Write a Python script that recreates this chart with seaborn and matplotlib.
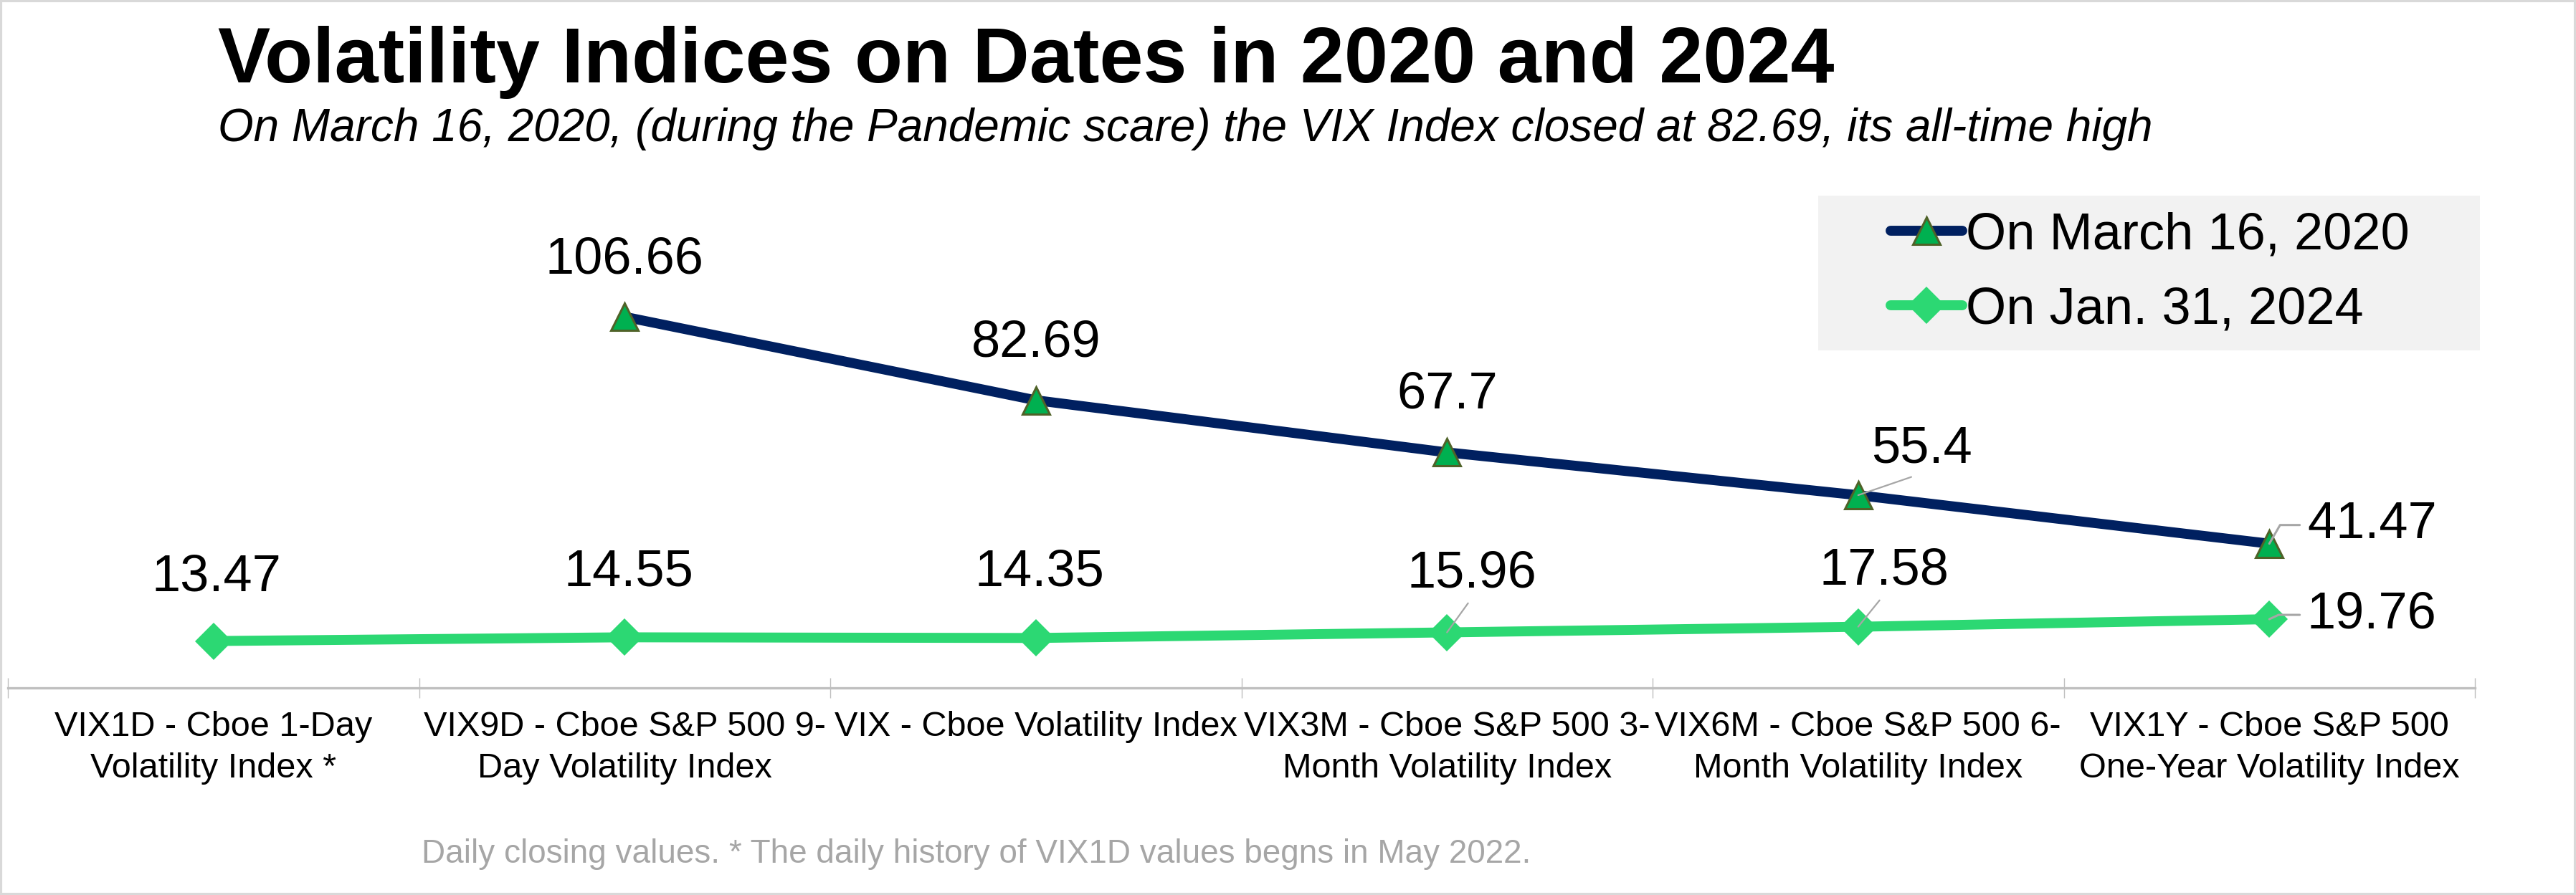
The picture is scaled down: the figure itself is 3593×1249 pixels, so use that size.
import numpy as np
import pandas as pd
import matplotlib
matplotlib.use("Agg")
import matplotlib.pyplot as plt
from matplotlib.patches import Rectangle
import seaborn as sns

# ------------------------------------------------------------------
# Data
# ------------------------------------------------------------------
categories = [
    "VIX1D - Cboe 1-Day\nVolatility Index *",
    "VIX9D - Cboe S&P 500 9-\nDay Volatility Index",
    "VIX - Cboe Volatility Index",
    "VIX3M - Cboe S&P 500 3-\nMonth Volatility Index",
    "VIX6M - Cboe S&P 500 6-\nMonth Volatility Index",
    "VIX1Y - Cboe S&P 500\nOne-Year Volatility Index",
]
vix_2020 = [np.nan, 106.66, 82.69, 67.7, 55.4, 41.47]
vix_2024 = [13.47, 14.55, 14.35, 15.96, 17.58, 19.76]
series_names = ["On March 16, 2020", "On Jan. 31, 2024"]

# label placement (pixel offsets from the point) and leader-line style
offs_2020 = [None, (0, 79), (0, 80), (0, 80), (89, 64), (143, 26)]
offs_2024 = [(4, 89), (6, 90), (5, 91), (35, 82), (36, 78), (143, 6)]
lead_2020 = [None, None, None, None, "up", 60]
lead_2024 = [None, None, None, "up", "up", 25]

df = pd.DataFrame({"pos": np.arange(len(categories)),
                   "y2020": vix_2020, "y2024": vix_2024})

# ------------------------------------------------------------------
# Style
# ------------------------------------------------------------------
sns.set_style("white")
plt.rcParams["font.family"] = ["Liberation Sans", "DejaVu Sans"]
plt.rcParams["text.color"] = "black"
plt.rcParams["xtick.color"] = "black"

W, H = 3593, 1249
fig = plt.figure(figsize=(W / 100, H / 100), dpi=100)
fig.patch.set_facecolor("white")

# grey legend box, drawn behind the (transparent) axes
fig.patches.append(Rectangle((2536 / W, (H - 489) / H), 923 / W, 216 / H,
                             transform=fig.transFigure, facecolor="#F2F2F2",
                             edgecolor="none", zorder=-1))

k = 4.855  # pixels per unit
ax = fig.add_axes([11 / W, (H - 960) / H, 3441 / W, 120 * k / H])
ax.patch.set_alpha(0)

navy = "#002060"
green = "#2CD873"

sns.lineplot(data=df, x="pos", y="y2020", ax=ax, color=navy, lw=10,
             marker="^", markersize=27, markerfacecolor="#00B050",
             markeredgecolor="#4F6228", markeredgewidth=2.2,
             solid_capstyle="round", label=series_names[0], errorbar=None)
sns.lineplot(data=df, x="pos", y="y2024", ax=ax, color=green, lw=10,
             marker="D", markersize=26.5, markerfacecolor=green,
             markeredgecolor=green, markeredgewidth=0,
             solid_capstyle="round", label=series_names[1], errorbar=None)

ax.set_xlim(-0.5, len(categories) - 0.5)
ax.set_ylim(0, 120)
ax.set_xlabel("")
ax.set_ylabel("")
ax.set_yticks([])
for s in ["left", "right", "top"]:
    ax.spines[s].set_visible(False)
ax.spines["bottom"].set_color("#BFBFBF")
ax.spines["bottom"].set_linewidth(2.4)

ax.set_xticks(np.arange(-0.5, len(categories), 1))
ax.set_xticklabels([])
ax.tick_params(axis="x", which="major", bottom=True, direction="inout",
               length=20, width=1.0, color="#BFBFBF")
ax.set_xticks(np.arange(len(categories)), categories, minor=True)
ax.tick_params(axis="x", which="minor", bottom=True, length=0, pad=23,
               labelsize=35, labelcolor="black")
plt.setp(ax.get_xticklabels(minor=True), linespacing=1.36)


def add_labels(values, offsets, leaders):
    for i, (v, off, lead) in enumerate(zip(values, offsets, leaders)):
        if np.isnan(v):
            continue
        txt = f"{v:g}"
        kw = dict(xy=(i, v), xytext=off, textcoords="offset pixels",
                  ha="center", va="center", fontsize=52, color="black",
                  annotation_clip=False)
        if lead == "up":
            kw["arrowprops"] = dict(arrowstyle="-", color="#A6A6A6", lw=1.6,
                                    shrinkA=4, shrinkB=0, relpos=(0.5, 0))
        elif lead is not None:
            kw["arrowprops"] = dict(arrowstyle="-", color="#A6A6A6", lw=2.2,
                                    shrinkA=5, shrinkB=0, relpos=(0, 0.5),
                                    connectionstyle=f"angle,angleA=0,angleB={lead},rad=0")
        ax.annotate(txt, **kw)


add_labels(vix_2020, offs_2020, lead_2020)
add_labels(vix_2024, offs_2024, lead_2024)

leg = ax.legend(loc="center left", bbox_to_anchor=(2637 / W, (H - 381) / H),
                bbox_transform=fig.transFigure, frameon=False, fontsize=52,
                borderpad=0, borderaxespad=0, handlelength=1.39,
                handletextpad=0.07, labelspacing=0.51, numpoints=1)

# titles and note
fig.text(304 / W, (H - 115) / H, "Volatility Indices on Dates in 2020 and 2024",
         fontsize=79, fontweight="bold", va="baseline", ha="left", color="black")
fig.text(304 / W, (H - 197) / H,
         "On March 16, 2020, (during the Pandemic scare) the VIX Index closed at 82.69, its all-time high",
         fontsize=46, fontstyle="italic", va="baseline", ha="left", color="black")
fig.text(588 / W, (H - 1204) / H,
         "Daily closing values. * The daily history of VIX1D values begns in May 2022.",
         fontsize=33, color="#A6A6A6", va="baseline", ha="left")

# outer border
fig.patches.append(Rectangle((0, 0), 1, 1, transform=fig.transFigure,
                             fill=False, edgecolor="#D9D9D9", lw=4.5))

fig.savefig("out.png", dpi=100)
